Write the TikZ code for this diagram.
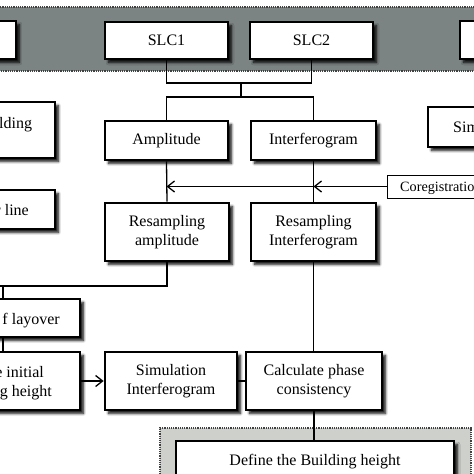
\documentclass[tikz,border=0pt]{standalone}
\usepackage{fontspec}
\setmainfont{Liberation Serif}
\usetikzlibrary{arrows.meta,shadows.blur}
\definecolor{banddark}{RGB}{124,131,131}
\definecolor{bandlight}{RGB}{206,208,204}
\begin{document}
\begin{tikzpicture}[x=1pt,y=-1pt,
  font=\fontsize{16}{19}\selectfont,
  box/.style={draw=black, line width=2.7pt, fill=white, inner sep=0pt, align=center,
    blur shadow={shadow xshift=3.5pt, shadow yshift=-3.5pt, shadow blur steps=6,
      shadow blur radius=2.5pt, shadow opacity=95}},
  thinbox/.style={draw=black, line width=0.8pt, fill=white, inner sep=0pt},
  conn/.style={line width=1.3pt},
  arr/.style={line width=1.3pt, -{Straight Barb[length=7pt,width=11pt,line width=1.3pt]}},
  band/.style={draw=black!75, densely dotted, line width=1.2pt, inner sep=0pt},
  frag/.style={inner sep=0pt}]
\useasboundingbox (0,0) rectangle (474,474);
\clip (0,0) rectangle (474,474);
% bands
\node[band, fill=banddark, minimum width=494pt, minimum height=64pt] (topband) at (237,39) {};
\node[band, fill=bandlight, minimum width=311pt, minimum height=92pt] (botband) at (315.5,474) {};
% boxes in top band
\node[box, minimum width=76pt, minimum height=38pt] (l0) at (-22,40) {};
\node[box, minimum width=123pt, minimum height=37pt] (slc1) at (166.5,40.5) {SLC1};
\node[box, minimum width=123pt, minimum height=37pt] (slc2) at (311.5,40.5) {SLC2};
\node[box, minimum width=80pt, minimum height=38pt] (r0) at (500,40) {};
% main column
\node[box, minimum width=123pt, minimum height=39pt] (amp) at (166.5,140.5) {Amplitude};
\node[box, minimum width=125pt, minimum height=39pt] (intf) at (313.5,140.5) {Interferogram};
\node[box, minimum width=124pt, minimum height=58pt] (ramp) at (167,232) {Resampling\\amplitude};
\node[box, minimum width=125pt, minimum height=58pt] (rint) at (313.5,232) {Resampling\\Interferogram};
\node[box, minimum width=132pt, minimum height=58pt] (sim) at (171,381) {Simulation\\Interferogram};
\node[box, minimum width=136pt, minimum height=58pt] (calc) at (314,381) {Calculate phase\\consistency};
\node[box, minimum width=278pt, minimum height=42pt] (def) at (315,462) {Define the Building height};
% cut boxes at the edges
\node[box, minimum width=135pt, minimum height=56pt] (bld) at (-12.5,130) {};
\node[box, minimum width=115pt, minimum height=39pt] (rline) at (-2.5,209.5) {};
\node[box, minimum width=180pt, minimum height=38pt] (layov) at (-10,318) {};
\node[box, minimum width=180pt, minimum height=58pt] (init) at (-10,381) {};
\node[box, minimum width=112pt, minimum height=40pt] (simr) at (484,127) {};
\node[thinbox, minimum width=153pt, minimum height=23pt] (coreg) at (463.5,186.5) {};
% text fragments
\node[frag, anchor=base west] (tbld) at (-1,128) {lding};
\node[frag, anchor=base east] (trline) at (29,215) {r line};
\node[frag, anchor=base east] (tlay) at (60,324) {f layover};
\node[frag, anchor=base east] (tinit1) at (44,377) {e initial};
\node[frag, anchor=base east] (tinit2) at (52,396) {g height};
\node[frag, anchor=base west] (tsim) at (453,132) {Sim};
\node[frag, anchor=base west, font=\fontsize{14.2}{17}\selectfont] (tcoreg) at (400,191) {Coregistratio};
% connectors
\coordinate (j1) at (241,83);
\coordinate (j2) at (241,97);
\coordinate (a1) at (166.5,186.5);
\coordinate (a2) at (313.5,186.5);
\coordinate (j3) at (3,286);
\coordinate (j4) at (-5,286);
\draw[conn] (slc1.south) |- (j1) -| (slc2.south);
\draw[conn] (j1) -- (j2);
\draw[conn] (amp.north) |- (j2) -| (intf.north);
\draw[conn] (amp.south) -- (ramp.north);
\draw[conn] (intf.south) -- (rint.north);
\draw[arr] (coreg.west) -- (a2);
\draw[arr] (a2) -- (a1);
\draw[conn] (ramp.south) |- (j4);
\draw[conn] (j3) -- (j3 |- layov.north);
\draw[conn] (j3 |- layov.south) -- (j3 |- init.north);
\draw[arr] (init.east) -- (sim.west);
\draw[conn] (sim.east) -- (calc.west);
\draw[conn] (rint.south) -- (rint.south |- calc.north);
\draw[conn] (calc.south) -- (calc.south |- def.north);
\end{tikzpicture}
\end{document}
